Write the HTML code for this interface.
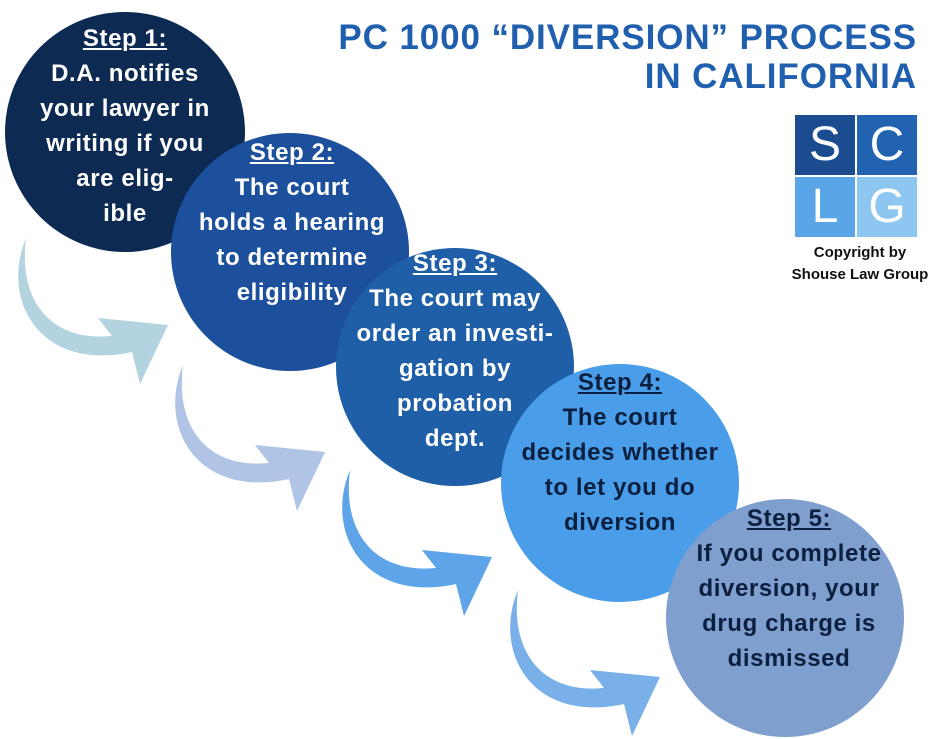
<!DOCTYPE html>
<html><head><meta charset="utf-8"><style>
html,body{margin:0;padding:0;background:#fff;}
body{width:943px;height:739px;position:relative;overflow:hidden;font-family:"Liberation Sans",sans-serif;}
.t{position:absolute;text-align:center;font-weight:bold;font-size:24px;letter-spacing:0.6px;line-height:35px;white-space:nowrap;transform:translateX(-50%);}
.t u{text-decoration:underline;}
.w{color:#fff}.d{color:#0b1f3f}
.title{position:absolute;right:26px;top:18px;text-align:right;color:#1f5fae;font-weight:bold;font-size:35px;line-height:39px;letter-spacing:0.9px;}
.sq{position:absolute;width:60px;height:60px;color:#fff;font-size:48px;line-height:60px;text-align:center;font-weight:normal;}
.cp{position:absolute;left:785px;width:150px;text-align:center;font-weight:bold;font-size:15px;line-height:22px;color:#111;top:242px;}
</style></head><body>
<svg width="943" height="739" style="position:absolute;left:0;top:0">
<defs>
<path id="ar" d="M26,238 C0,300 40,372 132,352 L140,384 L168,325 L98,318 L112,336 C50,342 18,300 26,238 Z"/>
</defs>
<use href="#ar" fill="#b4d3e0"/>
<use href="#ar" fill="#b0c4e6" transform="translate(157,127)"/>
<use href="#ar" fill="#5ea4e8" transform="translate(324,232)"/>
<use href="#ar" fill="#7ab0ea" transform="translate(492,352)"/>
<circle cx="125" cy="132" r="120" fill="#0d2a52"/>
<circle cx="290" cy="252" r="119" fill="#1c4f9c"/>
<circle cx="455" cy="367" r="119" fill="#1f5fa8"/>
<circle cx="620" cy="483" r="119" fill="#4a9de8"/>
<circle cx="785" cy="618" r="119" fill="#7f9fcf"/>
</svg>
<div class="t w" style="left:125px;top:21px"><u>Step 1:</u><br>D.A. notifies<br>your lawyer in<br>writing if you<br>are elig-<br>ible</div>
<div class="t w" style="left:292px;top:135px"><u>Step 2:</u><br>The court<br>holds a hearing<br>to determine<br>eligibility</div>
<div class="t w" style="left:455px;top:246px"><u>Step 3:</u><br>The court may<br>order an investi-<br>gation by<br>probation<br>dept.</div>
<div class="t d" style="left:620px;top:365px"><u>Step 4:</u><br>The court<br>decides whether<br>to let you do<br>diversion</div>
<div class="t d" style="left:789px;top:501px"><u>Step 5:</u><br>If you complete<br>diversion, your<br>drug charge is<br>dismissed</div>
<div class="title">PC 1000 “DIVERSION” PROCESS<br>IN CALIFORNIA</div>
<div class="sq" style="left:795px;top:115px;background:#1a4c8f">S</div>
<div class="sq" style="left:857px;top:115px;background:#2163b0">C</div>
<div class="sq" style="left:795px;top:177px;background:#5aa5e8">L</div>
<div class="sq" style="left:857px;top:177px;background:#8ec6f2">G</div>
<div class="cp">Copyright by<br>Shouse Law Group</div>
</body></html>
